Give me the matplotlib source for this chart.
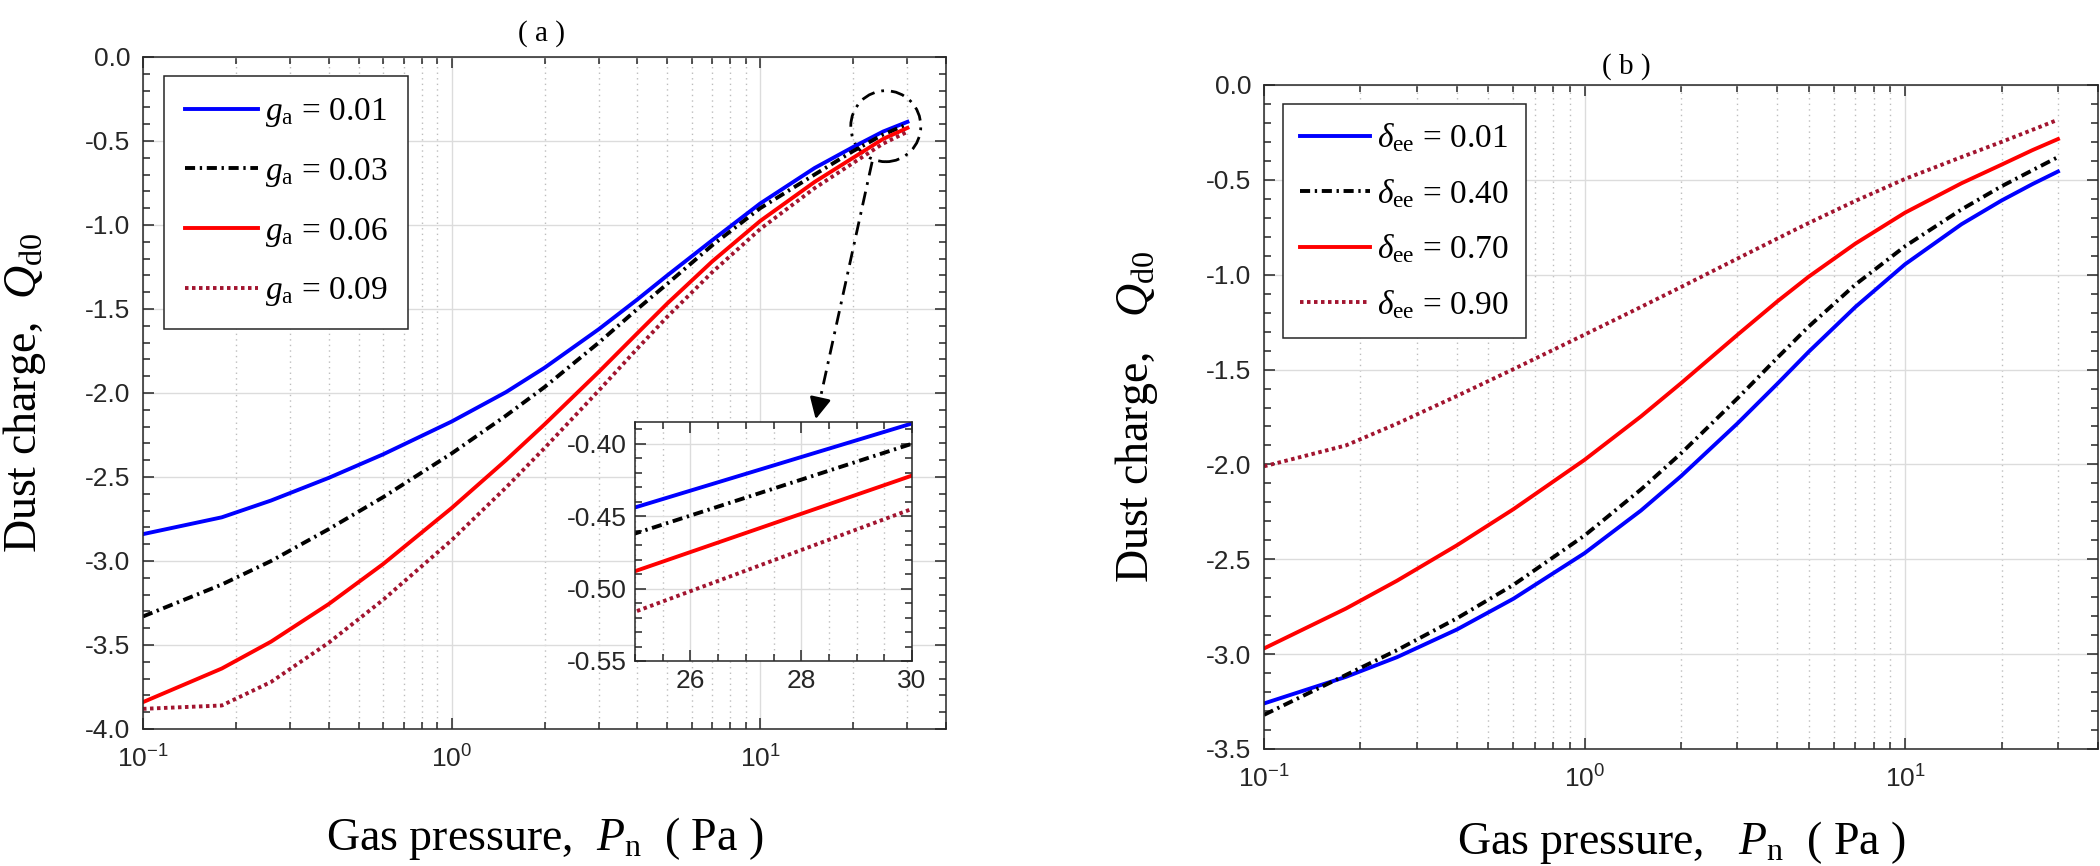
import numpy as np
import matplotlib
matplotlib.use("Agg")
import matplotlib.pyplot as plt
from matplotlib.ticker import MultipleLocator, LogLocator, NullFormatter, FormatStrFormatter
from matplotlib.patches import Ellipse

plt.rcParams['font.family'] = ['Liberation Sans', 'DejaVu Sans']
plt.rcParams['mathtext.fontset'] = 'custom'
plt.rcParams['mathtext.rm'] = 'Liberation Serif'
plt.rcParams['mathtext.it'] = 'Liberation Serif:italic'
plt.rcParams['mathtext.bf'] = 'Liberation Serif:bold'
plt.rcParams['axes.unicode_minus'] = False

# gas pressure (Pa)
P = [0.1, 0.18, 0.26, 0.4, 0.6, 1, 1.5, 2, 3, 4, 5, 7, 10, 15, 20, 25, 30]

# panel (a): dust charge for different g_a
ga_labels = ['0.01', '0.03', '0.06', '0.09']
Qa_001 = [-2.84, -2.74, -2.64, -2.505, -2.365, -2.17, -1.995, -1.85, -1.62, -1.443, -1.30, -1.09, -0.872, -0.661, -0.536, -0.444, -0.386]
Qa_003 = [-3.33, -3.14, -3.00, -2.81, -2.62, -2.36, -2.135, -1.965, -1.70, -1.50, -1.35, -1.12, -0.90, -0.70, -0.56, -0.462, -0.400]
Qa_006 = [-3.84, -3.64, -3.48, -3.256, -3.018, -2.685, -2.40, -2.187, -1.874, -1.644, -1.467, -1.216, -0.976, -0.744, -0.600, -0.488, -0.422]
Qa_009 = [-3.88, -3.86, -3.72, -3.486, -3.231, -2.876, -2.563, -2.328, -1.985, -1.735, -1.546, -1.280, -1.024, -0.781, -0.631, -0.516, -0.445]

# panel (b): dust charge for different delta_ee
dee_labels = ['0.01', '0.40', '0.70', '0.90']
Qb_001 = [-3.26, -3.12, -3.016, -2.87, -2.708, -2.468, -2.243, -2.062, -1.784, -1.574, -1.407, -1.17, -0.945, -0.734, -0.609, -0.522, -0.456]
Qb_040 = [-3.32, -3.11, -2.979, -2.811, -2.635, -2.375, -2.132, -1.942, -1.652, -1.437, -1.274, -1.052, -0.85, -0.656, -0.534, -0.449, -0.38]
Qb_070 = [-2.97, -2.76, -2.613, -2.426, -2.236, -1.976, -1.747, -1.572, -1.317, -1.14, -1.011, -0.836, -0.673, -0.518, -0.42, -0.343, -0.285]
Qb_090 = [-2.01, -1.90, -1.785, -1.639, -1.498, -1.316, -1.17, -1.065, -0.915, -0.809, -0.728, -0.611, -0.495, -0.38, -0.30, -0.236, -0.183]

colors = ['#0000ff', '#000000', '#ff0000', '#a2142f']
styles = ['-', (0, (2.6, 1.2, 0.6, 1.2)), '-', (0, (0.9, 0.9))]
LW = 2.8
axcol = '#262626'
TFS = 19
serif = 'Liberation Serif'

W, H = 2100, 866
fig = plt.figure(figsize=(21, 8.66), dpi=100)


def px_axes(l, t, r, b):
    return fig.add_axes([l / W, 1 - b / H, (r - l) / W, (b - t) / H])


def style_axes(ax, logx=True):
    for s in ax.spines.values():
        s.set_color(axcol)
        s.set_linewidth(1.1)
    ax.tick_params(which='both', direction='in', top=True, right=True, colors=axcol,
                   labelsize=TFS, labelcolor='#262626', width=1.1)
    ax.tick_params(which='major', length=8, pad=9)
    ax.tick_params(which='minor', length=5)
    ax.grid(True, which='major', color='#dcdcdc', lw=1.0, ls='-')
    if logx:
        ax.grid(True, which='minor', axis='x', color='#bdbdbd', lw=1.0, ls=(0, (1, 3)))
    ax.set_axisbelow(True)


def main_axes(ax, ylo):
    ax.set_xscale('log')
    ax.set_xlim(0.1, 40)
    ax.set_ylim(ylo, 0)
    ax.xaxis.set_major_locator(LogLocator(base=10, numticks=10))
    ax.xaxis.set_minor_locator(LogLocator(base=10, subs=np.arange(2, 10), numticks=20))
    ax.xaxis.set_minor_formatter(NullFormatter())
    ax.yaxis.set_major_locator(MultipleLocator(0.5))
    ax.yaxis.set_minor_locator(MultipleLocator(0.1))
    ax.yaxis.set_major_formatter(FormatStrFormatter('%.1f'))
    style_axes(ax)
    ax.tick_params(axis='x', which='major', pad=12)


def add_legend(ax, anchor, hlen, lsp, bpad):
    leg = ax.legend(loc='upper left', bbox_to_anchor=anchor,
                    prop={'family': serif, 'size': 24}, handlelength=hlen, handletextpad=0.2,
                    labelspacing=lsp, borderpad=bpad, borderaxespad=0, fancybox=False,
                    edgecolor=axcol, framealpha=1)
    leg.get_frame().set_linewidth(1.1)
    return leg


# ---------------- panel (a)
axa = px_axes(143, 57, 946, 729)
for q, c, ls, lab in zip([Qa_001, Qa_003, Qa_006, Qa_009], colors, styles, ga_labels):
    axa.plot(P, q, color=c, ls=ls, lw=LW, label=r'$g_{\mathrm{a}}$ = ' + lab)
main_axes(axa, -4.0)
add_legend(axa, (0.026, 0.972), 2.2, 0.8, 0.62)
axa.set_xlabel(r'Gas pressure,  $P_{\mathrm{n}}$  ( Pa )', fontsize=33, family=serif)
axa.set_ylabel(r'Dust charge,  $Q_{\mathrm{d0}}$', fontsize=33, family=serif)
axa.xaxis.set_label_coords(0.5, -0.128)
axa.yaxis.set_label_coords(-0.118, 0.5)

# zoom marker: circle + dash-dot arrow to the inset
axa.add_patch(Ellipse((0.925, 0.897), 70 / 803, 71 / 672, transform=axa.transAxes,
                      fill=False, ec='k', lw=2.0, ls=(0, (5, 2.5, 1, 2.5))))
tail = np.array([0.908, 0.844])
tip = np.array([0.837, 0.457])
d = tip - tail
axa.plot([tail[0], tip[0] - 0.06 * d[0]], [tail[1], tip[1] - 0.06 * d[1]],
         transform=axa.transAxes, color='k', lw=2.0, ls=(0, (5, 2.5, 1, 2.5)))
axa.annotate('', xy=tuple(tip), xytext=tuple(tip - 0.08 * d), xycoords='axes fraction',
             arrowprops=dict(arrowstyle='-|>', color='k', lw=2.0, mutation_scale=32))

# inset
axi = px_axes(635, 422, 912, 661)
for q, c, ls in zip([Qa_001, Qa_003, Qa_006, Qa_009], colors, styles):
    axi.plot(P, q, color=c, ls=ls, lw=LW)
axi.set_xlim(25, 30)
axi.set_ylim(-0.55, -0.385)
axi.xaxis.set_major_locator(MultipleLocator(2))
axi.xaxis.set_minor_locator(MultipleLocator(0.5))
axi.yaxis.set_major_locator(MultipleLocator(0.05))
axi.yaxis.set_minor_locator(MultipleLocator(0.01))
axi.yaxis.set_major_formatter(FormatStrFormatter('%.2f'))
axi.set_xticks([26, 28, 30])
style_axes(axi, logx=False)
axi.grid(True, which='minor', axis='x', color='#bdbdbd', lw=1.0, ls=(0, (1, 3)))
axi.tick_params(which='major', pad=6)

fig.text(541 / W, 1 - 34 / H, '( a )', fontsize=21, family=serif, ha='center', va='center')

# ---------------- panel (b)
axb = px_axes(1264, 85, 2098, 749)
for q, c, ls, lab in zip([Qb_001, Qb_040, Qb_070, Qb_090], colors, styles, dee_labels):
    axb.plot(P, q, color=c, ls=ls, lw=LW, label=r'$\delta_{\mathrm{ee}}$ = ' + lab)
main_axes(axb, -3.5)
add_legend(axb, (0.0228, 0.971), 2.1, 0.68, 0.52)
axb.set_xlabel(r'Gas pressure,   $P_{\mathrm{n}}$  ( Pa )', fontsize=33, family=serif)
axb.set_ylabel(r'Dust charge,   $Q_{\mathrm{d0}}$', fontsize=33, family=serif)
axb.xaxis.set_label_coords(0.5, -0.105)
axb.yaxis.set_label_coords(-0.125, 0.5)

fig.text(1626 / W, 1 - 67 / H, '( b )', fontsize=21, family=serif, ha='center', va='center')

fig.savefig('out.png', dpi=100, facecolor='white')
